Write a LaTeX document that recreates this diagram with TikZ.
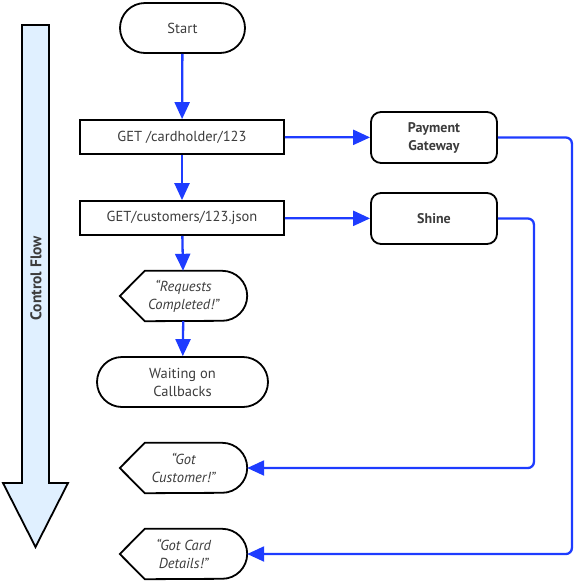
\documentclass[tikz,border=0pt]{standalone}
\usepackage{fontspec}
\setmainfont{PT Sans}
\usepackage{tikz}
\usetikzlibrary{arrows.meta,calc}
\definecolor{flowblue}{RGB}{30,60,255}
\definecolor{flowfill}{RGB}{224,240,255}
\definecolor{labelgray}{RGB}{60,60,60}
\tikzset{
  boxline/.style={draw=black,line width=1.8pt},
  boxtext/.style={text=labelgray,font=\fontsize{14.5}{18}\selectfont,align=center,inner sep=0pt},
  pillbox/.style={boxline,boxtext,rounded corners=25pt,minimum height=50pt},
  callbox/.style={boxline,boxtext,minimum width=204pt,minimum height=34pt},
  servicebox/.style={boxline,boxtext,font=\fontsize{14}{18}\selectfont\bfseries,rounded corners=10pt,minimum width=126pt,minimum height=51pt},
  eventbox/.style={boxtext,font=\fontsize{14.5}{18}\selectfont\itshape,minimum width=127pt,minimum height=50pt},
  flow/.style={draw=flowblue,line width=2.3pt,-{Triangle[length=17pt,width=15pt]}},
}
\newcommand{\eventnode}[3]{%
  \node[eventbox] (#1) at (183.5,#2) {#3};%
  \draw[boxline] (#1.west) -- ($(#1.north west)+(25,0)$) -- ($(#1.north east)+(-25,0)$)
    arc[start angle=-90,end angle=90,radius=25] -- ($(#1.south west)+(25,0)$) -- cycle;%
}

\begin{document}
\begin{tikzpicture}[x=1pt,y=-1pt]
  \useasboundingbox (0,0) rectangle (575,582);
  % control flow arrow
  \draw[boxline,fill=flowfill,line join=miter] (22,25) -- (49,25) -- (49,483) -- (68,483) -- (35.5,547)
    -- (3,483) -- (22,483) -- cycle;
  \node[boxtext,font=\fontsize{15.5}{18}\selectfont\bfseries,rotate=90] (cflabel) at (36,278) {Control Flow};
  % main column
  \node[pillbox,minimum width=125pt] (start) at (182.5,28) {Start};
  \node[callbox] (card) at (182,137) {GET /cardholder/123};
  \node[callbox] (cust) at (182,218) {GET/customers/123.json};
  \eventnode{req}{296}{“Requests\\Completed!”}
  \node[pillbox,minimum width=171pt] (wait) at (182.5,382) {Waiting on\\Callbacks};
  \eventnode{gotcust}{468}{“Got\\Customer!”}
  \eventnode{gotcard}{554}{“Got Card\\Details!”}
  % services
  \node[servicebox] (pay) at (434,137.5) {Payment\\Gateway};
  \node[servicebox] (shine) at (434,218.5) {Shine};
  % connectors
  \draw[flow] (start) -- (card);
  \draw[flow] (card) -- (cust);
  \draw[flow] (cust) -- (req);
  \draw[flow] (req) -- (wait);
  \draw[flow] (card) -- (pay);
  \draw[flow] (cust) -- (shine);
  \draw[flow,rounded corners=6pt] (shine.east) -- ++(36,0) |- (gotcust.east);
  \draw[flow,rounded corners=6pt] (pay.east) -- ++(74,0) |- (gotcard.east);
\end{tikzpicture}
\end{document}
